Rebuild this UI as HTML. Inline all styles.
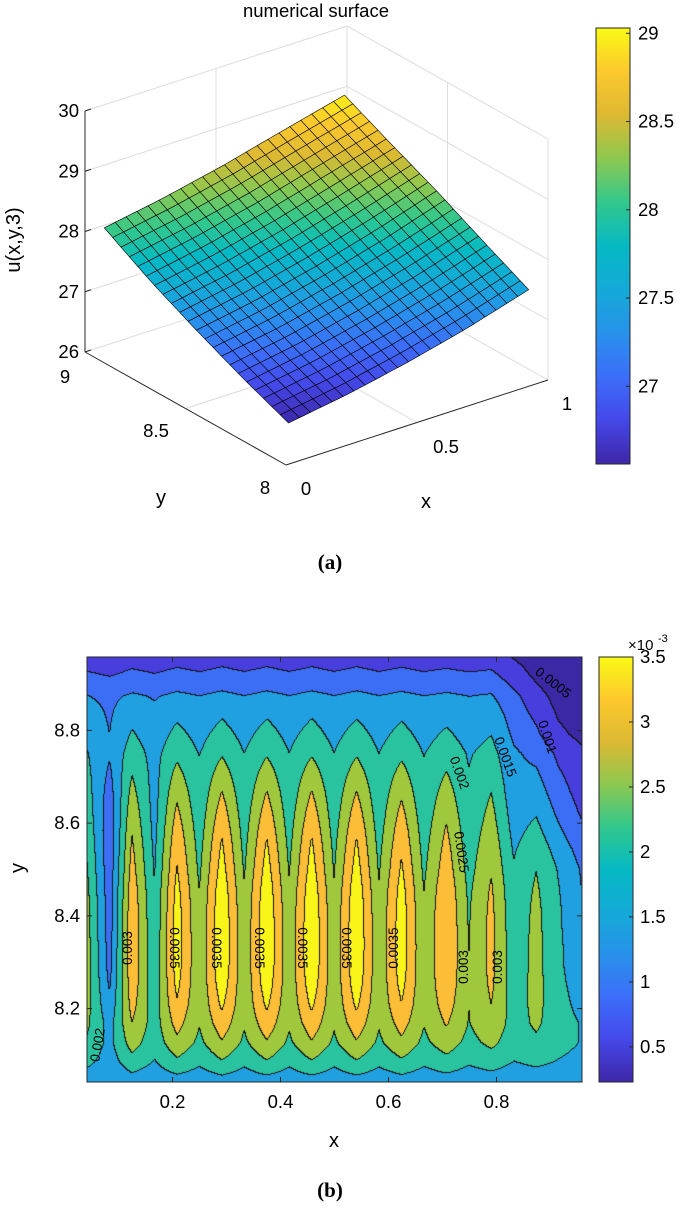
<!DOCTYPE html>
<html><head><meta charset="utf-8">
<style>
html,body{margin:0;padding:0;background:#fff;}
#wrap{position:relative;width:685px;height:1211px;overflow:hidden;}
#cv{position:absolute;left:87px;top:657px;}
svg{position:absolute;left:0;top:0;}
text{font-family:"Liberation Sans",Arial,sans-serif;fill:#000;}
</style></head>
<body>
<div id="wrap">
<canvas id="cv" width="495" height="425"></canvas>
<svg id="svg" width="685" height="1211" xmlns="http://www.w3.org/2000/svg">
<defs>
<linearGradient id="parulaV" x1="0" y1="1" x2="0" y2="0">
<stop offset="0" stop-color="rgb(62,38,168)"/><stop offset="0.1" stop-color="rgb(69,72,233)"/>
<stop offset="0.2" stop-color="rgb(60,110,250)"/><stop offset="0.3" stop-color="rgb(40,145,235)"/>
<stop offset="0.4" stop-color="rgb(20,170,215)"/><stop offset="0.5" stop-color="rgb(5,185,195)"/>
<stop offset="0.6" stop-color="rgb(50,200,140)"/><stop offset="0.7" stop-color="rgb(140,200,80)"/>
<stop offset="0.8" stop-color="rgb(220,185,50)"/><stop offset="0.9" stop-color="rgb(252,200,45)"/>
<stop offset="1" stop-color="rgb(249,250,20)"/>
</linearGradient>
</defs>
<g id="top3d"></g>
<g id="bottom"></g>
</svg>
</div>
<script>
// ---------- DATA: surface plot (coarse samples of u(x,y,3)) ----------
const surfX = [0.0417, 0.27, 0.5, 0.73, 0.9583];
const surfY = [8.0417, 8.27, 8.5, 8.73, 8.9583];
const surfRow0 = [26.56, 26.72, 26.93, 27.18, 27.48];
const surfRow1 = [26.88, 27.05, 27.28, 27.55, 27.86];
const surfRow2 = [27.24, 27.42, 27.66, 27.94, 28.26];
const surfRow3 = [27.63, 27.82, 28.06, 28.34, 28.62];
const surfRow4 = [28.08, 28.26, 28.48, 28.74, 28.99];
const zTicks = [26, 27, 28, 29, 30];
const cb1Ticks = [27, 27.5, 28, 28.5, 29];
const cb1Range = [26.56, 29.03];

// ---------- DATA: contour plot ----------
const xAmp = [2.19,0.55,3.01,1.5,3.42,2.05,3.65,2.1,3.65,2.12,3.66,2.12,3.65,2.1,3.47,2.05,3.12,1.95,2.72,1.6,2.15,1.5,0.9];
const yValley = [1.7,2.1,2.4,2.55,2.6,2.62,2.62,2.62,2.6,2.58,2.53,2.45,2.38,2.3,2.22,2.15,2.08,2.0,1.85,1.7,1.5,1.1,0.7];
const yPeak = [1.8,2.45,2.95,3.3,3.6,3.8,3.92,3.95,3.95,3.92,3.85,3.72,3.6,3.45,3.25,3.02,2.75,2.45,2.2,1.95,1.6,1.2,0.8];
const fadeX = [0,0,0,0,0,0,0,0,0,0,0,0,0,0,0,0,0,0,0,0.3,0.7,1,1.1];
const fadeY = [0,0,0,0,0,0,0,0,0,0,0,0,0.1,0.25,0.4,0.55,0.7,0.85,1,1.05,1.05,0.9,0.6];
const levels = [0.5,1,1.5,2,2.5,3,3.5];
const xTicks2 = [0.2,0.4,0.6,0.8];
const yTicks2 = [8.2,8.4,8.6,8.8];
const cb2Ticks = [0.5,1,1.5,2,2.5,3,3.5];
const cb2Range = [0.23,3.5];

const NS='http://www.w3.org/2000/svg';
function mk(tag,attrs,parent,txt){const e=document.createElementNS(NS,tag);for(const k in attrs)e.setAttribute(k,attrs[k]);if(txt!==undefined)e.textContent=txt;parent.appendChild(e);return e;}
const PAR=[[62,38,168],[69,72,233],[60,110,250],[40,145,235],[20,170,215],[5,185,195],[50,200,140],[140,200,80],[220,185,50],[252,200,45],[249,250,20]];
function parula(t){t=Math.max(0,Math.min(1,t));const f=t*10,i=Math.min(9,Math.floor(f)),r=f-i;const a=PAR[i],b=PAR[i+1];return [0,1,2].map(k=>Math.round(a[k]+(b[k]-a[k])*r));}

// ================= TOP 3D SURFACE =================
const g1=document.getElementById('top3d');
function P(x,y,z){return [286+262*x-201*(y-8), 465-85*x-113*(y-8)-60.25*(z-26)];}
const rows=[surfRow0,surfRow1,surfRow2,surfRow3,surfRow4];
function seg(xs,v){for(let i=0;i<xs.length-1;i++){if(v<=xs[i+1]||i===xs.length-2){return [i,(v-xs[i])/(xs[i+1]-xs[i])];}}}
function surfZ(x,y){const [i,tx]=seg(surfX,x);const [j,ty]=seg(surfY,y);
  const a=rows[j][i],b=rows[j][i+1],c=rows[j+1][i],d=rows[j+1][i+1];
  return a*(1-tx)*(1-ty)+b*tx*(1-ty)+c*(1-tx)*ty+d*tx*ty;}
const gl={stroke:'#dcdcdc','stroke-width':1,fill:'none'};
function line3(a,b,attrs,name){const p=P(...a),q=P(...b);const l=mk('line',Object.assign({x1:p[0],y1:p[1],x2:q[0],y2:q[1]},attrs),g1);return l;}
zTicks.forEach(z=>{ if(z>26){line3([0,9,z],[1,9,z],gl,'grid-z-back');line3([1,9,z],[1,8,z],gl,'grid-z-right');}});
line3([1,9,26],[1,9,30],gl,'box-back-vertical');line3([1,8,26],[1,8,30],gl,'box-right-vertical');
line3([0.5,9,26],[0.5,9,30],gl,'grid-x-back');line3([1,8.5,26],[1,8.5,30],gl,'grid-y-right');
line3([0.5,8,26],[0.5,9,26],gl,'grid-x-floor');line3([0,8.5,26],[1,8.5,26],gl,'grid-y-floor');
line3([0,9,26],[1,9,26],gl,'floor-back');line3([1,9,26],[1,8,26],gl,'floor-right');
const N=23, faces=[];
for(let i=0;i<N-1;i++)for(let j=0;j<N-1;j++){
  const x0=(i+1)/24,x1=(i+2)/24,y0=8+(j+1)/24,y1=8+(j+2)/24;
  const z00=surfZ(x0,y0),z10=surfZ(x1,y0),z11=surfZ(x1,y1),z01=surfZ(x0,y1);
  faces.push({d:i+j,pts:[P(x0,y0,z00),P(x1,y0,z10),P(x1,y1,z11),P(x0,y1,z01)],z:(z00+z10+z11+z01)/4});
}
faces.sort((a,b)=>b.d-a.d);
const sg=mk('g',{},g1);
faces.forEach(f=>{const c=parula((f.z-cb1Range[0])/(cb1Range[1]-cb1Range[0]));
  const p=mk('polygon',{points:f.pts.map(q=>q[0].toFixed(1)+','+q[1].toFixed(1)).join(' '),fill:`rgb(${c})`,stroke:'#000','stroke-width':0.6},sg);
  });
const ax={stroke:'#262626','stroke-width':1};
line3([0,9,26],[0,9,30],ax,'z-axis');line3([0,9,26],[0,8,26],ax,'y-axis');line3([0,8,26],[1,8,26],ax,'x-axis');
zTicks.forEach(z=>{const p=P(0,9,z);mk('line',{x1:p[0],y1:p[1],x2:p[0]+6,y2:p[1]-2,stroke:'#262626'},g1);
  const t=mk('text',{x:p[0]-6,y:p[1]+6,'font-size':18.5,'text-anchor':'end'},g1,String(z));});
[[9,65,383],[8.5,156,437],[8,265,494]].forEach(a=>{const t=mk('text',{x:a[1],y:a[2],'font-size':18.5,'text-anchor':'middle'},g1,String(a[0]));});
[[0,306,495],[0.5,446,453],[1,567,410]].forEach(a=>{const t=mk('text',{x:a[1],y:a[2],'font-size':18.5,'text-anchor':'middle'},g1,String(a[0]));});
let t;
t=mk('text',{x:161,y:504,'font-size':20,'text-anchor':'middle'},g1,'y');
t=mk('text',{x:426,y:508,'font-size':20,'text-anchor':'middle'},g1,'x');
t=mk('text',{x:0,y:0,'font-size':20,'text-anchor':'middle',transform:'translate(20,240) rotate(-90)'},g1,'u(x,y,3)');
t=mk('text',{x:316,y:17,'font-size':18.5,'text-anchor':'middle'},g1,'numerical surface');
const cb1=mk('g',{},g1);
mk('rect',{x:596,y:28,width:34,height:436,fill:'url(#parulaV)',stroke:'#262626','stroke-width':1},cb1);
cb1Ticks.forEach(v=>{const y=464-(v-cb1Range[0])/(cb1Range[1]-cb1Range[0])*436;
  mk('line',{x1:626,y1:y,x2:630,y2:y,stroke:'#262626'},cb1);
  const tt=mk('text',{x:638,y:y+6,'font-size':18.5},cb1,String(v));});
t=mk('text',{x:330,y:569,'font-size':21,'font-weight':'bold','text-anchor':'middle',style:'font-family:"Liberation Serif",serif'},g1,'(a)');

// ================= BOTTOM CONTOUR =================
const L=87,R=582,T=657,B=1082,X0=1/24,X1=23/24;
const sx=x=>L+(x-X0)/(X1-X0)*(R-L), sy=y=>B-(y-8-X0)/(X1-X0)*(B-T);
function nodeVal(i,j){return yValley[j]+(xAmp[i]-2.1)/1.55*(yPeak[j]-yValley[j])-1.1*fadeX[i]*fadeY[j];}
const cv=document.getElementById('cv'),ctx=cv.getContext('2d');
const W=cv.width,H=cv.height,img=ctx.createImageData(W,H);
const bandCol=[[58,40,165],[72,62,222],[60,110,245],[32,160,225],[42,195,160],[160,200,60],[253,190,55],[250,245,25]];
const band=new Int8Array(W*H);
for(let py=0;py<H;py++){const yv=(H-1-py)/(H-1)*(N-1);const j=Math.min(N-2,Math.floor(yv)),ty=yv-j;
 for(let px=0;px<W;px++){const xv=px/(W-1)*(N-1);const i=Math.min(N-2,Math.floor(xv)),tx=xv-i;
  const v=nodeVal(i,j)*(1-tx)*(1-ty)+nodeVal(i+1,j)*tx*(1-ty)+nodeVal(i,j+1)*(1-tx)*ty+nodeVal(i+1,j+1)*tx*ty;
  let b=0;while(b<levels.length&&v>=levels[b])b++;band[py*W+px]=b;}}
for(let py=0;py<H;py++)for(let px=0;px<W;px++){const k=py*W+px,b=band[k];
  let edge=(px<W-1&&band[k+1]!==b)||(py<H-1&&band[k+W]!==b);
  const c=edge?[20,20,20]:bandCol[b];img.data[4*k]=c[0];img.data[4*k+1]=c[1];img.data[4*k+2]=c[2];img.data[4*k+3]=255;}
ctx.putImageData(img,0,0);
const g2=document.getElementById('bottom');
mk('rect',{x:L,y:T,width:R-L,height:B-T,fill:'none',stroke:'#262626','stroke-width':1},g2);
xTicks2.forEach(v=>{const x=sx(v);mk('line',{x1:x,y1:B,x2:x,y2:B-5,stroke:'#262626'},g2);mk('line',{x1:x,y1:T,x2:x,y2:T+5,stroke:'#262626'},g2);
  const tt=mk('text',{x:x,y:B+26,'font-size':18.5,'text-anchor':'middle'},g2,String(v));});
yTicks2.forEach(v=>{const y=sy(v);mk('line',{x1:L,y1:y,x2:L+5,y2:y,stroke:'#262626'},g2);mk('line',{x1:R,y1:y,x2:R-5,y2:y,stroke:'#262626'},g2);
  const tt=mk('text',{x:L-7,y:y+6,'font-size':18.5,'text-anchor':'end'},g2,String(v));});
t=mk('text',{x:334,y:1147,'font-size':20,'text-anchor':'middle'},g2,'x');
t=mk('text',{x:0,y:0,'font-size':20,'text-anchor':'middle',transform:'translate(24,868) rotate(-90)'},g2,'y');
const labs=[['0.003',128,948,-90],['0.0035',174,948,90],['0.0035',216,948,90],['0.0035',259,948,90],['0.0035',302,948,90],['0.0035',346,948,90],['0.0035',394,948,-90],['0.003',464,967,-90],['0.003',498,967,-90],
 ['0.0005',553,683,38],['0.001',547,737,72],['0.0015',505,757,70],['0.002',459,773,70],['0.0025',461,852,82],['0.002',98,1045,-80]];
labs.forEach(a=>{const tt=mk('text',{x:0,y:0,'font-size':13.5,'text-anchor':'middle',transform:`translate(${a[1]},${a[2]}) rotate(${a[3]})`,dy:4},g2,a[0]);});
const cb2=mk('g',{},g2);
mk('rect',{x:599,y:T,width:34,height:B-T,fill:'url(#parulaV)',stroke:'#262626','stroke-width':1},cb2);
cb2Ticks.forEach(v=>{const y=B-(v-cb2Range[0])/(cb2Range[1]-cb2Range[0])*(B-T);
  mk('line',{x1:629,y1:y,x2:633,y2:y,stroke:'#262626'},cb2);
  const tt=mk('text',{x:640,y:y+6,'font-size':18.5},cb2,String(v));});
t=mk('text',{x:628,y:650,'font-size':15},cb2,'×10');
t=mk('text',{x:658,y:642,'font-size':11},cb2,'-3');
t=mk('text',{x:330,y:1197,'font-size':21,'font-weight':'bold','text-anchor':'middle',style:'font-family:"Liberation Serif",serif'},g2,'(b)');
</script>
</body></html>
